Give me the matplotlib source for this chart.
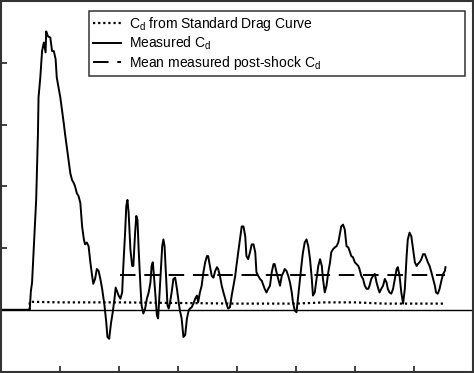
import matplotlib
matplotlib.use('Agg')
import matplotlib.pyplot as plt

plt.rcParams['font.family'] = ['Liberation Sans', 'DejaVu Sans']
plt.rcParams['mathtext.fontset'] = 'custom'
plt.rcParams['mathtext.rm'] = 'Liberation Sans'

# measured drag coefficient trace
t_meas = [0.00, 0.48, 0.50, 0.52, 0.55, 0.59, 0.62, 0.63, 0.66, 0.69, 0.72, 0.75, 0.76, 0.79,
          0.83, 0.86, 0.89, 0.92, 0.94, 0.97, 1.00, 1.03, 1.06, 1.08, 1.11, 1.14, 1.17, 1.20,
          1.23, 1.25, 1.28, 1.31, 1.34, 1.37, 1.40, 1.42, 1.45, 1.48, 1.51, 1.54, 1.56, 1.59,
          1.62, 1.65, 1.68, 1.71, 1.75, 1.78, 1.80, 1.83, 1.86, 1.89, 1.92, 1.94, 1.96, 1.99,
          2.02, 2.05, 2.07, 2.10, 2.12, 2.14, 2.16, 2.19, 2.22, 2.24, 2.27, 2.29, 2.31, 2.33,
          2.36, 2.38, 2.41, 2.44, 2.47, 2.50, 2.53, 2.55, 2.57, 2.59, 2.62, 2.64, 2.66, 2.68,
          2.71, 2.73, 2.75, 2.77, 2.80, 2.82, 2.84, 2.86, 2.89, 2.92, 2.95, 2.98, 3.01, 3.03,
          3.06, 3.09, 3.12, 3.15, 3.18, 3.20, 3.23, 3.26, 3.29, 3.32, 3.34, 3.37, 3.40, 3.43,
          3.46, 3.49, 3.51, 3.54, 3.57, 3.60, 3.63, 3.66, 3.68, 3.71, 3.74, 3.77, 3.80, 3.82,
          3.85, 3.88, 3.91, 3.94, 3.97, 3.99, 4.02, 4.05, 4.08, 4.11, 4.14, 4.16, 4.19, 4.22,
          4.25, 4.28, 4.31, 4.33, 4.36, 4.39, 4.42, 4.45, 4.47, 4.50, 4.53, 4.56, 4.59, 4.62,
          4.64, 4.67, 4.70, 4.73, 4.76, 4.79, 4.81, 4.84, 4.87, 4.90, 4.93, 4.95, 4.98, 5.01,
          5.04, 5.07, 5.10, 5.12, 5.15, 5.18, 5.21, 5.24, 5.27, 5.29, 5.32, 5.35, 5.38, 5.41,
          5.44, 5.46, 5.49, 5.52, 5.55, 5.58, 5.60, 5.63, 5.66, 5.69, 5.72, 5.75, 5.77, 5.80,
          5.83, 5.86, 5.89, 5.92, 5.94, 5.97, 6.00, 6.03, 6.06, 6.08, 6.11, 6.14, 6.17, 6.20,
          6.23, 6.25, 6.28, 6.31, 6.34, 6.37, 6.40, 6.42, 6.45, 6.48, 6.51, 6.54, 6.56, 6.59,
          6.62, 6.65, 6.68, 6.71, 6.73, 6.76, 6.79, 6.82, 6.85, 6.88, 6.90, 6.93, 6.96, 6.99,
          7.02, 7.05, 7.07, 7.10, 7.13, 7.16, 7.19, 7.21, 7.24, 7.27, 7.30, 7.33, 7.36, 7.38,
          7.41, 7.44, 7.47, 7.50, 7.53, 7.54]
cd_meas = [0.00, 0.00, 0.30, 0.44, 1.03, 1.78, 2.85, 3.44, 3.76, 4.19, 4.33, 4.17, 4.51, 4.43,
           4.41, 4.19, 4.19, 4.06, 3.76, 3.60, 3.44, 3.23, 3.01, 2.85, 2.64, 2.43, 2.21, 2.10,
           2.05, 2.00, 1.89, 1.84, 1.73, 1.35, 1.14, 1.06, 1.09, 1.03, 0.77, 0.55, 0.42, 0.50,
           0.66, 0.63, 0.50, 0.34, 0.07, -0.20, -0.44, -0.47, -0.22, -0.04, 0.18, 0.36, 0.31, 0.23,
           0.18, 0.28, 0.71, 1.25, 1.68, 1.78, 1.57, 0.98, 0.71, 0.71, 1.25, 1.52, 1.46, 0.98,
           0.39, 0.07, -0.06, 0.02, 0.18, 0.28, 0.44, 0.71, 0.77, 0.55, 0.18, -0.09, -0.14, 0.18,
           0.71, 1.03, 1.14, 1.03, 0.44, 0.07, 0.02, 0.10, 0.28, 0.50, 0.52, 0.34, 0.12, -0.01,
           -0.14, -0.44, -0.41, -0.14, -0.01, 0.02, 0.04, 0.10, 0.18, 0.23, 0.12, 0.28, 0.39, 0.61,
           0.77, 0.87, 0.87, 0.71, 0.55, 0.52, 0.63, 0.69, 0.66, 0.55, 0.39, 0.28, 0.18, 0.10,
           0.02, 0.04, 0.23, 0.39, 0.55, 0.71, 0.93, 1.14, 1.35, 1.35, 1.19, 0.87, 0.82, 0.93,
           1.06, 1.06, 0.93, 0.61, 0.55, 0.50, 0.47, 0.39, 0.34, 0.28, 0.34, 0.39, 0.61, 0.74,
           0.74, 0.61, 0.50, 0.39, 0.55, 0.61, 0.66, 0.63, 0.55, 0.44, 0.28, 0.12, -0.01, -0.04,
           0.23, 0.50, 0.77, 0.93, 1.09, 1.14, 1.03, 0.82, 0.50, 0.23, 0.28, 0.50, 0.71, 0.82,
           0.71, 0.50, 0.28, 0.39, 0.61, 0.77, 0.93, 0.98, 1.01, 1.03, 1.09, 1.25, 1.35, 1.38,
           1.30, 1.03, 1.01, 0.93, 0.87, 0.85, 0.77, 0.74, 0.71, 0.66, 0.55, 0.50, 0.39, 0.34,
           0.34, 0.39, 0.50, 0.55, 0.58, 0.44, 0.34, 0.28, 0.34, 0.39, 0.50, 0.44, 0.34, 0.28,
           0.26, 0.34, 0.50, 0.66, 0.69, 0.55, 0.28, 0.10, 0.34, 0.87, 1.14, 1.25, 1.19, 0.98,
           0.77, 0.71, 0.74, 0.77, 0.82, 0.90, 0.90, 0.85, 0.77, 0.71, 0.61, 0.50, 0.39, 0.28,
           0.26, 0.34, 0.47, 0.58, 0.63, 0.69]

# Cd from the standard drag curve
t_std = [0.48, 0.48, 1.0, 2.0, 3.0, 4.0, 5.0, 5.5, 6.0, 6.5, 7.0, 7.5, 7.54]
cd_std = [0.00, 0.13, 0.12, 0.12, 0.11, 0.10, 0.10, 0.12, 0.12, 0.10, 0.10, 0.10, 0.10]

# mean post-shock value
t_mean = [2.01, 7.54]
cd_mean = [0.57, 0.57]

fig = plt.figure(figsize=(4.74, 3.73), dpi=100)
ax = fig.add_axes([0.003, 0.004, 0.994, 0.993])

ax.plot(t_std, cd_std, color='black', lw=1.6, linestyle=(0, (1, 1.3)),
        label='C$_\\mathregular{d}$ from Standard Drag Curve')
ax.plot(t_meas, cd_meas, color='black', lw=1.4, label='Measured C$_\\mathregular{d}$')
ax.plot(t_mean, cd_mean, color='black', lw=1.4, linestyle=(0, (8, 4.5)),
        label='Mean measured post-shock C$_\\mathregular{d}$')
ax.axhline(0, color='black', lw=1.0)

ax.set_xlim(0, 8)
ax.set_ylim(-1, 5)
ax.set_xticks([1, 2, 3, 4, 5, 6, 7])
ax.set_yticks([0, 1, 2, 3, 4])
ax.tick_params(direction='in', length=4, width=1.2, labelbottom=False, labelleft=False,
               colors='#222222')
for s in ax.spines.values():
    s.set_linewidth(1.5)
    s.set_color('#333333')

leg = ax.legend(loc='upper left', bbox_to_anchor=(0.186, 0.973, 0.798, 0.0), mode='expand',
                fontsize=10, frameon=True, fancybox=False, handlelength=2.0,
                handletextpad=0.6, labelspacing=0.12, borderpad=0.3, borderaxespad=0,
                edgecolor='black')
leg.get_frame().set_linewidth(1.1)

plt.savefig('out.png', dpi=100)
